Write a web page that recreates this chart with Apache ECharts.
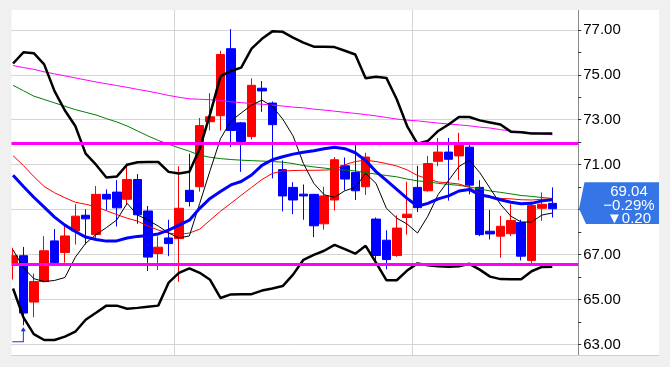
<!DOCTYPE html>
<html><head><meta charset="utf-8">
<script src="https://cdn.jsdelivr.net/npm/echarts@6/dist/echarts.min.js"></script>
<style>html,body{margin:0;padding:0;background:#fff}#c{width:670px;height:367px}</style>
</head><body><div id="c"></div>
<script>
// ---- data ----
const categories = ['1','2','3','4','5','6','7','8','9','10','11','12','13','14','15','16','17','18','19','20','21','22','23','24','25','26','27','28','29','30','31','32','33','34','35','36','37','38','39','40','41','42','43','44','45','46','47','48','49','50','51','52','53','',''];
const monthStarts = [16, 39];
// [open, close, low, high]
const ohlc = [
[66.56,66.95,65.89,67.30],[66.95,64.40,63.86,67.34],[64.89,65.80,64.21,66.15],[65.80,67.17,65.76,67.82],
[67.61,66.64,66.55,68.14],[67.09,67.83,66.64,68.33],[68.05,68.71,67.45,69.24],[68.75,68.59,67.45,69.02],
[67.89,69.68,67.67,70.05],[69.68,69.47,68.97,69.90],[69.78,69.08,68.25,70.31],[69.46,70.34,69.21,71.05],
[70.34,68.77,68.37,70.58],[68.94,66.89,66.27,69.16],[67.05,67.33,66.32,67.82],[67.74,67.49,66.93,68.55],
[67.71,69.06,65.79,70.93],[69.86,69.36,69.14,71.49],[70.02,72.74,69.80,73.08],[72.91,73.13,72.52,74.18],
[73.18,75.90,72.52,76.07],[76.16,72.52,71.78,77.03],[72.86,72.03,70.68,72.90],[72.25,74.53,72.12,74.84],
[74.40,74.28,73.35,74.72],[73.74,72.78,70.39,73.81],[70.78,69.61,68.92,71.19],[69.99,69.43,68.80,70.22],
[69.69,69.61,68.55,70.12],[69.68,68.28,67.78,69.70],[68.37,69.61,68.11,70.02],[69.43,71.22,68.96,71.34],
[70.95,70.36,69.86,71.32],[70.65,69.84,69.43,71.90],[70.02,71.34,69.65,71.53],[68.58,66.96,66.56,68.65],
[67.64,66.78,66.34,68.08],[66.96,68.18,66.90,68.74],[68.65,68.80,67.89,70.24],[69.99,69.09,68.89,70.95],
[69.84,71.05,69.80,71.39],[71.15,71.56,70.93,72.19],[71.56,71.24,69.40,72.19],[71.39,71.89,70.31,72.42],
[71.78,70.09,69.68,71.90],[69.99,67.89,67.82,70.31],[68.04,67.92,67.67,68.99],[67.82,68.26,66.86,68.72],
[67.93,68.52,67.82,69.24],[68.43,66.93,66.74,68.55],[66.74,69.18,66.59,69.36],[69.06,69.24,68.50,69.77],
[69.28,69.04,68.65,69.99]
];
const bandUpper = [75.50,76.00,75.96,75.46,74.27,73.41,72.72,71.49,71.00,70.43,70.47,71.00,71.11,71.12,71.12,70.68,70.61,70.69,71.71,73.25,74.93,75.17,75.32,76.16,76.60,76.93,76.91,76.65,76.43,76.25,76.25,76.23,76.07,75.90,74.84,74.91,74.86,73.91,72.72,71.93,72.06,72.50,72.79,73.12,73.12,72.97,72.88,72.79,72.47,72.44,72.39,72.39,72.39];
const bandLower = [65.49,64.21,63.46,63.20,63.20,63.35,63.57,64.10,64.41,64.73,64.73,64.59,64.63,64.68,64.73,65.75,66.19,66.39,66.19,65.88,65.07,65.23,65.24,65.24,65.40,65.49,65.60,66.11,66.77,66.99,67.17,67.43,67.24,67.04,67.39,66.64,65.86,65.86,66.29,66.61,66.53,66.48,66.46,66.48,66.59,66.33,66.02,65.91,65.90,65.90,66.26,66.45,66.46];
const bandMid = [70.53,70.03,69.55,69.11,68.67,68.31,68.03,67.78,67.67,67.60,67.61,67.74,67.81,67.85,67.92,68.09,68.31,68.53,69.06,69.50,69.81,70.10,70.25,70.54,70.97,71.22,71.35,71.47,71.55,71.62,71.71,71.78,71.71,71.53,71.18,70.69,70.30,69.90,69.50,69.15,69.28,69.48,69.61,69.83,69.90,69.66,69.57,69.44,69.33,69.26,69.28,69.39,69.44];
const ma5 = [67.21,66.42,65.93,65.80,65.85,65.98,66.88,67.50,67.89,68.20,68.54,69.28,68.76,68.54,68.27,67.96,67.74,67.83,69.28,70.74,72.15,72.94,73.30,73.65,73.87,73.60,73.03,72.28,71.05,70.17,69.66,69.55,69.84,69.99,70.61,70.17,69.06,68.62,68.36,67.96,68.71,69.68,70.30,70.92,71.20,70.65,69.95,69.24,68.71,68.45,68.45,68.76,68.85];
const maRed = [71.40,70.96,70.47,70.03,69.75,69.53,69.33,69.24,69.13,68.95,68.78,68.62,68.49,68.27,68.09,67.96,67.90,67.96,68.13,68.53,68.93,69.28,69.64,69.99,70.34,70.61,70.72,70.74,70.75,70.75,70.76,70.78,71.00,71.14,71.20,71.14,71.05,70.94,70.77,70.52,70.37,70.23,70.19,70.14,69.99,69.73,69.55,69.50,69.48,69.44,69.43,69.46,69.48];
const maGreen = [74.53,74.29,74.05,73.90,73.75,73.60,73.45,73.33,73.21,73.05,72.90,72.72,72.50,72.28,72.08,71.91,71.75,71.60,71.42,71.33,71.27,71.23,71.20,71.18,71.16,71.14,71.11,71.05,70.96,70.90,70.85,70.79,70.76,70.72,70.65,70.58,70.52,70.46,70.36,70.28,70.24,70.17,70.12,70.08,70.01,69.92,69.83,69.77,69.70,69.63,69.59,69.54,69.50];
const maMagenta = [75.41,75.32,75.24,75.13,75.04,74.95,74.86,74.77,74.68,74.60,74.52,74.44,74.35,74.27,74.18,74.08,74.00,73.93,73.91,73.89,73.85,73.80,73.76,73.72,73.69,73.65,73.61,73.56,73.53,73.47,73.43,73.38,73.33,73.28,73.23,73.17,73.10,73.03,72.98,72.95,72.90,72.85,72.81,72.77,72.73,72.67,72.63,72.56,72.50,72.46,72.42,72.37,72.33];
const levelLines = [71.95, 66.56];
const lastClose = 69.04;
const changeText = ['69.04', '\u22120.29%', '\u25BC0.20'];

// ---- chart ----
const chart = echarts.init(document.getElementById('c'));
function lineS(data, color, width, z) {
  return {type: 'line', data: data, symbol: 'none', silent: true, z: z,
    lineStyle: {color: color, width: width}, itemStyle: {color: color}};
}
const option = {
  animation: false,
  backgroundColor: '#ffffff',
  grid: {left: 7.875, top: 7.32, width: 570.35, height: 362.88, containLabel: false},
  xAxis: {type: 'category', data: categories, boundaryGap: true,
    axisLine: {show: false}, axisTick: {show: false}, axisLabel: {show: false},
    splitLine: {show: true, interval: function (i) { return monthStarts.indexOf(i) >= 0; },
      lineStyle: {color: '#d4d4d4', width: 1}}},
  yAxis: {type: 'value', position: 'right', min: 62, max: 78, interval: 1, scale: true,
    axisLine: {show: true, lineStyle: {color: '#8a8a8a', width: 1}},
    axisTick: {show: true, length: 3, lineStyle: {color: '#333'}},
    axisLabel: {margin: 5, color: '#000', fontFamily: 'Liberation Sans', fontSize: 15, padding: [4, 0, 0, 0],
      formatter: function (v) { return (Math.round(v) % 2 === 1) ? v.toFixed(2) : ''; }},
    splitLine: {show: true, lineStyle: {color: ['rgba(0,0,0,0)', '#d4d4d4'], width: 1}}},
  series: [
    {type: 'candlestick', data: ohlc, barWidth: 9, z: 2,
      itemStyle: {color: '#ff0000', color0: '#0000ff', borderColor: '#ff0000', borderColor0: '#0000ff', borderWidth: 1},
      markPoint: {symbol: 'path://M11,0 L13.5,4 L11.5,4 L11.5,15 L0,15 L0,14 L10.5,14 L10.5,4 L8.5,4 Z',
        symbolSize: [13.5, 15], symbolOffset: [-4.35, 9.5], label: {show: false},
        itemStyle: {color: '#1f2fe0'}, data: [{type: 'min', valueDim: 'lowest'}]},
      markLine: {symbol: 'none', silent: true, label: {show: false}, z: 10,
        lineStyle: {color: '#ff00ff', width: 3, type: 'solid'},
        data: levelLines.map(function (v) { return {yAxis: v}; })}},
    lineS(maMagenta, '#ff00ff', 1, 3),
    lineS(maGreen, '#008000', 1, 3),
    lineS(maRed, '#ff0000', 1, 3),
    lineS(ma5, '#000000', 1, 3),
    lineS(bandMid, '#0000ff', 3, 4),
    lineS(bandUpper, '#000000', 2.5, 5),
    lineS(bandLower, '#000000', 2.5, 5)
  ]
};
chart.setOption(option);

// frame and price tag
const yc = chart.convertToPixel({yAxisIndex: 0}, lastClose);
const frame = '#f0f0f0';
function tagText(t, dy) {
  return {type: 'text', x: 629, y: yc + dy, z: 111, silent: true,
    style: {text: t, fill: '#fff', font: '15px "Liberation Sans"', align: 'center', verticalAlign: 'middle'}};
}
chart.setOption({graphic: [
  {type: 'rect', shape: {x: 0, y: 0, width: 670, height: 10}, style: {fill: frame}, z: 100, silent: true},
  {type: 'rect', shape: {x: 0, y: 355, width: 670, height: 12}, style: {fill: frame}, z: 100, silent: true},
  {type: 'rect', shape: {x: 0, y: 0, width: 11.5, height: 367}, style: {fill: frame}, z: 100, silent: true},
  {type: 'rect', shape: {x: 659, y: 0, width: 11, height: 367}, style: {fill: frame}, z: 100, silent: true},
  {type: 'line', shape: {x1: 11.5, y1: 355.5, x2: 659, y2: 355.5}, style: {stroke: '#cfcfcf', lineWidth: 1}, z: 101, silent: true},
  {type: 'polygon', shape: {points: [[579, yc], [584.5, yc - 26.5], [659, yc - 26.5], [659, yc + 15.2], [586, yc + 15.2]]},
    style: {fill: '#3575e5'}, z: 110, silent: true},
  tagText(changeText[0], -16.5),
  tagText(changeText[1], -2.5),
  tagText(changeText[2], 10)
]});
</script></body></html>
